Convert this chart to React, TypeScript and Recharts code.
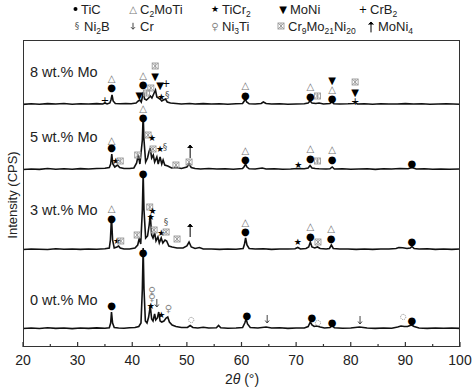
import React from 'react';
import { ComposedChart, Line, Scatter, XAxis, YAxis } from 'recharts';

// sample names, bottom to top
const samples = ['0 wt.% Mo', '3 wt.% Mo', '5 wt.% Mo', '8 wt.% Mo'];
const offsets = [18, 97, 177, 242];
const xTicks = [20, 25, 30, 35, 40, 45, 50, 55, 60, 65, 70, 75, 80, 85, 90, 95, 100];

// [2theta, intensity]
const mo0: [number, number][] = [
  [20, 0.5], [21.5, 1], [23, 0.5], [24.5, 1.2], [26, 0.6], [27.5, 1], [29, 0.4], [30.5, 1], [32, 0.6], [33.5, 1.1],
  [35, 0.8], [35.8, 1.2], [36.05, 6], [36.2, 17], [36.4, 6], [36.7, 1.5], [37.5, 1], [38.5, 0.8], [39.5, 1.2], [40.5, 1.5],
  [41.2, 2.5], [41.6, 6], [41.85, 40], [42.0, 81], [42.15, 40], [42.4, 8], [42.7, 6], [43.0, 12], [43.3, 23], [43.55, 10],
  [43.8, 8], [44.1, 15], [44.3, 9], [44.6, 11], [44.85, 17], [45.1, 8], [45.4, 7], [45.8, 8], [46.2, 11], [46.5, 12],
  [46.8, 7], [47.3, 4], [48, 2.5], [49, 1.5], [50.1, 1.5], [50.6, 3.5], [51.1, 1.5], [52, 1], [53, 1.8], [54, 1],
  [55.4, 1.2], [55.8, 3.5], [56.2, 1.2], [57.5, 0.8], [59, 1], [60.2, 1.5], [60.6, 6], [60.85, 10], [61.1, 5], [61.6, 1.5],
  [63, 1], [64.5, 2], [65.5, 1], [67, 1.2], [68.5, 0.6], [70, 1], [71.5, 1], [72.2, 2.5], [72.6, 7], [72.9, 4],
  [73.3, 2.5], [73.8, 3], [74.4, 2], [75.2, 1], [76.2, 1.5], [76.6, 3.5], [77, 1.2], [78.5, 0.8], [80, 1], [81.6, 2],
  [83, 1], [84.5, 0.6], [86, 1], [87.5, 0.8], [88.6, 2], [89.2, 3], [89.8, 2.5], [90.4, 2.5], [91.1, 4], [91.6, 2.5],
  [92.5, 1], [94, 0.6], [95.5, 1], [97, 0.8], [98.5, 1], [100, 0.6],
];

const mo3: [number, number][] = [
  [20, 0.5], [21.5, 1], [23, 0.8], [24.5, 0.5], [26, 1.2], [27.5, 0.8], [29, 1], [30.5, 0.6], [32, 1], [33.5, 0.8],
  [35, 1.2], [35.8, 2], [36.0, 10], [36.2, 33], [36.4, 10], [36.7, 2], [37.2, 3], [37.5, 4], [37.8, 2], [38.5, 1],
  [39.5, 1], [40.5, 2], [41.0, 5], [41.3, 12], [41.55, 6], [41.85, 40], [42.0, 77], [42.15, 40], [42.45, 12], [42.8, 14],
  [43.1, 25], [43.3, 35], [43.55, 15], [43.8, 12], [44.1, 17], [44.35, 9], [44.7, 13], [44.95, 7], [45.3, 12], [45.6, 7],
  [46.0, 10], [46.3, 9], [46.7, 4], [47.3, 3], [48.2, 2], [49.3, 2], [50.0, 4], [50.4, 8], [50.8, 3], [51.5, 1.5],
  [52.3, 2.5], [53, 1], [54.5, 1], [56, 0.6], [57.5, 1], [59, 0.8], [60.3, 1.5], [60.55, 6], [60.75, 12], [61.0, 5],
  [61.4, 1.5], [62.5, 1], [64, 1.2], [65.5, 0.6], [67, 1], [68.5, 1], [69.8, 1.2], [70.3, 2.5], [70.8, 1], [71.8, 1.5],
  [72.3, 3], [72.6, 8], [72.9, 3], [73.4, 2], [73.9, 3], [74.4, 1.5], [75.5, 1], [76.1, 1.5], [76.45, 5], [76.8, 1.5],
  [78, 1], [79.5, 1], [81, 0.6], [82.5, 1], [84, 0.6], [85.5, 1], [87, 1], [88.3, 1.5], [88.8, 2.5], [89.5, 2.2],
  [90.3, 1.5], [90.9, 2], [91.2, 3.5], [91.6, 1.5], [92.5, 1], [94, 1.2], [95.5, 0.6], [97, 1], [98.5, 0.6], [100, 1],
];

const mo5: [number, number][] = [
  [20, 0.5], [21.5, 1], [23, 0.6], [24.5, 1.5], [26, 0.8], [27.5, 1.2], [29, 0.8], [30.5, 1.4], [32, 1], [33.5, 1.5],
  [35, 1.8], [35.8, 2.5], [36.05, 6], [36.25, 16], [36.45, 6], [36.8, 3], [37.3, 5], [37.7, 2.5], [38.5, 1.5], [39.5, 1.5],
  [40.3, 2], [40.8, 7], [41.1, 15], [41.4, 6], [41.85, 30], [42.0, 55], [42.15, 30], [42.45, 8], [42.8, 12], [43.05, 18],
  [43.3, 22], [43.55, 12], [43.85, 15], [44.1, 8], [44.5, 13], [44.75, 6], [45.1, 13], [45.4, 6], [45.65, 10], [45.95, 5],
  [46.5, 4], [47.2, 2], [48, 2.5], [49, 1.5], [50.0, 3], [50.4, 6], [50.8, 2.5], [51.5, 1.5], [52.5, 1], [54, 1.5],
  [55.5, 1], [57, 1.2], [58.5, 0.8], [60.2, 1.5], [60.5, 3.5], [60.75, 6], [61.0, 3], [61.4, 1.2], [62.5, 1], [63.8, 2],
  [64.5, 1], [66, 1.2], [67.5, 0.8], [69, 1], [70.3, 1.5], [71.5, 1.2], [72.2, 2], [72.55, 4.5], [72.9, 2], [73.5, 1.5],
  [74.2, 1.2], [75.5, 1], [76.2, 1.2], [76.6, 3], [77, 1], [78.5, 1.2], [80, 0.8], [81.5, 1], [83, 1.2], [84.5, 0.6],
  [86, 1.2], [87.5, 1], [89, 1.5], [90.5, 1.2], [91.2, 2.5], [92, 1], [93.5, 1.2], [95, 0.8], [96.5, 1], [98, 0.8], [100, 1],
];

const mo8: [number, number][] = [
  [20, 0.6], [21.5, 1.2], [23, 0.8], [24.5, 1.4], [26, 1], [27.5, 1.5], [29, 0.8], [30.5, 1.2], [32, 1], [33.5, 1.4],
  [34.6, 1], [35.0, 2], [35.4, 1], [35.9, 2], [36.1, 5], [36.3, 10], [36.5, 4], [36.9, 1.5], [37.8, 1.2], [38.8, 1.5],
  [39.8, 1.2], [40.7, 2], [41.1, 4], [41.4, 5], [41.65, 3], [41.85, 8], [42.05, 13], [42.25, 6], [42.6, 5], [43.0, 7],
  [43.3, 9], [43.6, 7], [44.0, 12], [44.25, 15], [44.5, 8], [44.8, 7], [45.1, 6], [45.4, 4], [45.7, 5], [46.1, 6],
  [46.4, 3], [47, 2], [48, 1.5], [49, 1], [50.5, 1.5], [51.5, 1], [53, 1.4], [54.5, 1], [56, 1.2], [57.5, 0.8],
  [59, 1.2], [60.2, 1.5], [60.5, 4], [60.7, 6], [60.95, 3], [61.4, 1.2], [62.5, 1], [63.6, 1.5], [64.0, 3], [64.5, 1.5],
  [65.5, 1], [67, 1.2], [68.5, 0.8], [70, 1], [71.5, 1.2], [72.2, 2], [72.55, 4], [72.9, 2], [73.6, 1.5], [74.2, 2],
  [75, 1], [76.2, 1.5], [76.55, 3.5], [76.9, 1.2], [78, 1], [79.5, 1.2], [80.5, 1.5], [80.85, 2.5], [81.2, 1], [82.5, 1.2],
  [84, 0.8], [85.5, 1.2], [87, 1], [88.5, 1], [90, 1.4], [91.5, 1], [93, 1.2], [94.5, 0.8], [96, 1], [97.5, 1.2], [100, 0.8],
];

const patterns = [mo0, mo3, mo5, mo8];

// [sample index, 2theta, height above baseline, phase]
const marks: [number, number, number, string][] = [
  // 0 wt.%
  [0, 36.2, 24, 'TiC'], [0, 42.0, 77, 'TiC'], [0, 43.6, 39, 'Ni3Ti'], [0, 43.6, 32, 'Ni3Ti'], [0, 43.4, 23, 'TiCr2'],
  [0, 44.5, 26, 'Cr'], [0, 45.3, 14, 'TiCr2'], [0, 46.6, 21, 'Ni3Ti'], [0, 50.8, 9, 'unk'], [0, 61.0, 14, 'TiC'],
  [0, 64.7, 10, 'Cr'], [0, 72.9, 12, 'TiC'], [0, 74.0, 6, 'unk'], [0, 76.6, 7, 'TiC'], [0, 81.7, 9, 'Cr'],
  [0, 89.6, 12, 'unk'], [0, 91.2, 9, 'TiC'],
  // 3 wt.%
  [1, 36.2, 42, 'C2MoTi'], [1, 36.2, 32, 'TiC'], [1, 37.2, 9, 'TiCr2'], [1, 37.9, 9, 'CrMoNi'], [1, 40.9, 15, 'CrMoNi'],
  [1, 42.0, 77, 'TiC'], [1, 43.2, 43, 'CrMoNi'], [1, 43.7, 39, 'TiCr2'], [1, 43.4, 33, 'TiCr2'], [1, 44.0, 20, 'CrMoNi'],
  [1, 45.3, 17, 'TiCr2'], [1, 46.2, 18, 'CrMoNi'], [1, 46.2, 28, 'Ni2B'], [1, 48.2, 11, 'CrMoNi'], [1, 50.6, 21, 'MoNi4'],
  [1, 60.7, 28, 'C2MoTi'], [1, 60.7, 19, 'TiC'], [1, 70.3, 8, 'TiCr2'], [1, 72.6, 24, 'C2MoTi'], [1, 72.6, 14, 'TiC'],
  [1, 74.0, 8, 'CrMoNi'], [1, 76.4, 22, 'C2MoTi'], [1, 76.4, 12, 'TiC'], [1, 91.2, 9, 'TiC'],
  // 5 wt.%
  [2, 36.2, 30, 'C2MoTi'], [2, 36.2, 23, 'TiC'], [2, 37.0, 9, 'TiCr2'], [2, 37.8, 9, 'CrMoNi'], [2, 41.0, 15, 'CrMoNi'],
  [2, 42.0, 62, 'C2MoTi'], [2, 42.0, 53, 'TiC'], [2, 42.9, 35, 'CrMoNi'], [2, 43.6, 32, 'TiCr2'], [2, 43.8, 21, 'CrMoNi'],
  [2, 45.1, 21, 'TiCr2'], [2, 46.0, 23, 'Ni2B'], [2, 48.0, 5, 'CrMoNi'], [2, 50.6, 20, 'MoNi4'], [2, 50.4, 8, 'CrMoNi'],
  [2, 60.7, 20, 'C2MoTi'], [2, 60.7, 11, 'TiC'], [2, 70.4, 5, 'TiCr2'], [2, 72.6, 22, 'C2MoTi'], [2, 72.6, 12, 'TiC'],
  [2, 73.9, 9, 'CrMoNi'], [2, 76.6, 21, 'C2MoTi'], [2, 76.6, 11, 'TiC'], [2, 91.2, 7, 'TiC'],
  // 8 wt.%
  [3, 35.0, 5, 'CrB2'], [3, 36.2, 27, 'C2MoTi'], [3, 36.2, 18, 'TiC'], [3, 41.3, 10, 'MoNi'], [3, 42.0, 30, 'C2MoTi'],
  [3, 42.0, 21, 'TiC'], [3, 42.6, 12, 'CrMoNi'], [3, 43.4, 17, 'CrMoNi'], [3, 44.2, 39, 'CrMoNi'], [3, 44.2, 29, 'MoNi'],
  [3, 45.3, 8, 'TiCr2'], [3, 45.1, 20, 'MoNi'], [3, 46.2, 22, 'CrB2'], [3, 46.4, 10, 'Ni2B'], [3, 60.7, 20, 'C2MoTi'],
  [3, 60.7, 10, 'TiC'], [3, 72.6, 19, 'C2MoTi'], [3, 72.6, 9, 'TiC'], [3, 73.9, 9, 'CrMoNi'], [3, 76.6, 25, 'MoNi'],
  [3, 76.6, 16, 'C2MoTi'], [3, 76.6, 7, 'TiC'], [3, 80.8, 23, 'CrMoNi'], [3, 80.8, 13, 'MoNi'], [3, 80.8, 4, 'CrB2'],
];

const glyphs: Record<string, { ch: string; size: number; color: string }> = {
  TiC: { ch: '●', size: 10, color: '#000' },
  C2MoTi: { ch: '△', size: 10, color: '#777' },
  TiCr2: { ch: '★', size: 9, color: '#000' },
  MoNi: { ch: '▼', size: 10, color: '#000' },
  CrB2: { ch: '+', size: 10, color: '#000' },
  Ni2B: { ch: '§', size: 9, color: '#555' },
  Cr: { ch: '', size: 0, color: '#444' },
  Ni3Ti: { ch: '♀', size: 10, color: '#888' },
  CrMoNi: { ch: '', size: 0, color: '#999' },
  MoNi4: { ch: '', size: 0, color: '#000' },
  unk: { ch: '', size: 0, color: '#999' },
};

const sans = '"Liberation Sans", Arial, sans-serif';

const lineData = patterns.map((p, i) => p.map(([t, v]) => ({ t, y: v + offsets[i] })));
const markData = marks.map(([s, t, h, phase]) => ({ t, y: h + offsets[s], phase }));

function drawGlyph(phase: string, cx: number, cy: number, scale = 1) {
  const g = glyphs[phase];
  if (phase === 'Cr') {
    return (
      <g stroke={g.color} strokeWidth={1} fill="none">
        <line x1={cx} x2={cx} y1={cy - 4 * scale} y2={cy + 4 * scale} />
        <path d={`M${cx - 2},${cy + 1.5 * scale} L${cx},${cy + 4 * scale} L${cx + 2},${cy + 1.5 * scale}`} />
      </g>
    );
  }
  if (phase === 'MoNi4') {
    return (
      <g stroke={g.color} strokeWidth={1} fill="none">
        <line x1={cx} x2={cx} y1={cy - 5 * scale} y2={cy + 8 * scale} />
        <path d={`M${cx - 2.5},${cy - 2 * scale} L${cx},${cy - 5 * scale} L${cx + 2.5},${cy - 2 * scale}`} fill={g.color} />
      </g>
    );
  }
  if (phase === 'CrMoNi') {
    const s = 3;
    return (
      <g stroke={g.color} strokeWidth={0.9} fill="none">
        <rect x={cx - s} y={cy - s} width={2 * s} height={2 * s} />
        <line x1={cx - s} y1={cy - s} x2={cx + s} y2={cy + s} />
        <line x1={cx + s} y1={cy - s} x2={cx - s} y2={cy + s} />
        <line x1={cx} y1={cy - s} x2={cx} y2={cy + s} />
      </g>
    );
  }
  if (phase === 'unk') {
    return <circle cx={cx} cy={cy} r={2.6} fill="none" stroke={g.color} strokeWidth={1} strokeDasharray="1.2 0.8" />;
  }
  return (
    <text x={cx} y={cy} textAnchor="middle" dominantBaseline="central" fontSize={g.size} fill={g.color} fontFamily="DejaVu Sans">
      {g.ch}
    </text>
  );
}

const Glyph = (props: any) => {
  const { cx, cy, payload } = props;
  return drawGlyph(payload.phase, cx, cy);
};

const AxisTick = (props: any) => {
  const { x, y, payload } = props;
  const major = payload.value % 10 === 0;
  return (
    <g>
      <line x1={x} x2={x} y1={y} y2={y - (major ? 5 : 3)} stroke="#333" strokeWidth={1.2} />
      {major && (
        <text x={x} y={y + 18} textAnchor="middle" fontSize={14} fill="#222" fontFamily={sans}>
          {payload.value}
        </text>
      )}
    </g>
  );
};

const legendRows = [
  [
    ['TiC', <>TiC</>, 72],
    ['C2MoTi', <>C<sub>2</sub>MoTi</>, 128],
    ['TiCr2', <>TiCr<sub>2</sub></>, 210],
    ['MoNi', <>MoNi</>, 278],
    ['CrB2', <>CrB<sub>2</sub></>, 358],
  ],
  [
    ['Ni2B', <>Ni<sub>2</sub>B</>, 72],
    ['Cr', <>Cr</>, 128],
    ['Ni3Ti', <>Ni<sub>3</sub>Ti</>, 210],
    ['CrMoNi', <>Cr<sub>9</sub>Mo<sub>21</sub>Ni<sub>20</sub></>, 276],
    ['MoNi4', <>MoNi<sub>4</sub></>, 366],
  ],
] as [string, React.ReactNode, number][][];

const subStyle = `.lg sub{font-size:8.5px;vertical-align:-3px;line-height:0}`;

function LegendIcon({ phase }: { phase: string }) {
  if (phase === 'TiC') {
    return (
      <svg width={7} height={14} style={{ verticalAlign: -2, marginRight: 2 }}>
        <circle cx={3.5} cy={7} r={2} fill="#000" />
      </svg>
    );
  }
  return (
    <svg width={10} height={14} style={{ verticalAlign: -2, marginRight: 2 }}>
      {drawGlyph(phase, 5, 7, 0.8)}
    </svg>
  );
}

export default function App() {
  return (
    <div style={{ position: 'absolute', left: 0, top: 0, width: 474, height: 391, background: '#fff', fontFamily: sans }}>
      <style>{subStyle}</style>
      <ComposedChart width={474} height={391} margin={{ top: 40, right: 14, bottom: 14, left: 23 }}>
        <XAxis
          dataKey="t"
          type="number"
          domain={[20, 100]}
          ticks={xTicks}
          interval={0}
          axisLine={false}
          tickLine={false}
          tickSize={0}
          tickMargin={0}
          tick={<AxisTick />}
          height={30}
          allowDataOverflow
        />
        <YAxis hide domain={[0, 307]} type="number" allowDataOverflow />
        {lineData.map((d, i) => (
          <Line
            key={samples[i]}
            data={d}
            dataKey="y"
            type="linear"
            stroke="#111"
            strokeWidth={1.6}
            dot={false}
            isAnimationActive={false}
          />
        ))}
        <Scatter data={markData} dataKey="y" shape={<Glyph />} isAnimationActive={false} />
      </ComposedChart>

      {/* frame */}
      <div style={{ position: 'absolute', left: 23, top: 40, width: 437, height: 307, border: '1.5px solid #333', boxSizing: 'border-box', pointerEvents: 'none' }} />

      {/* legend */}
      {legendRows.map((row, r) =>
        row.map(([key, label, x]) => (
          <div key={key} className="lg" style={{ position: 'absolute', left: x, top: r === 0 ? 2 : 19, fontSize: 13, color: '#222', whiteSpace: 'nowrap', lineHeight: '16px' }}>
            <LegendIcon phase={key} />
            {label}
          </div>
        ))
      )}

      {/* sample labels */}
      {samples.map((s, i) => (
        <div key={s} style={{ position: 'absolute', left: 30, top: [292, 202, 129, 64][i], fontSize: 14.5, color: '#222', lineHeight: '16px' }}>
          {s}
        </div>
      ))}

      {/* axis titles */}
      <div style={{ position: 'absolute', left: 12, top: 195, transform: 'translate(-50%, -50%) rotate(-90deg)', fontSize: 13, color: '#222', whiteSpace: 'nowrap' }}>
        Intensity (CPS)
      </div>
      <div style={{ position: 'absolute', left: 242, top: 379, transform: 'translate(-50%, -50%)', fontSize: 14, color: '#222', whiteSpace: 'nowrap' }}>
        2<i>θ</i> (°)
      </div>
    </div>
  );
}
